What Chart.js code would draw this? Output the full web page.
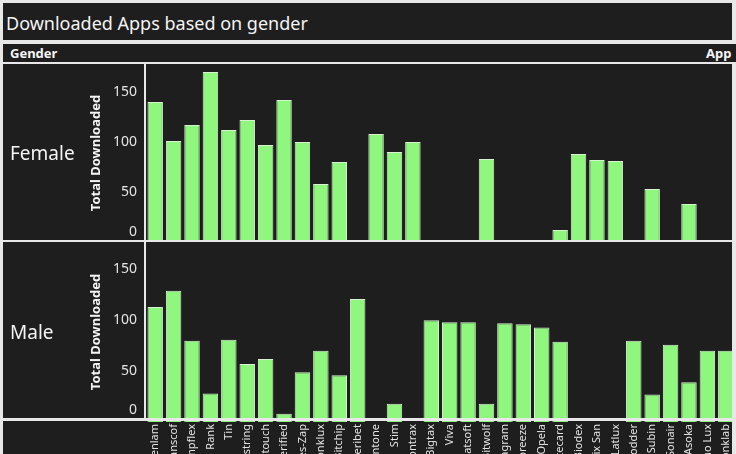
<!DOCTYPE html>
<html>
<head>
<meta charset="utf-8">
<title>Downloaded Apps based on gender</title>
<script src="https://cdn.jsdelivr.net/npm/chart.js@4.4.1/dist/chart.umd.min.js"></script>
<style>
  body { margin:0; width:736px; height:454px; background:#e8e8e8; position:relative; overflow:hidden; font-family:'Noto Sans', sans-serif; color:#f4f4f4; }
  .box { position:absolute; background:#1e1e1e; }
  .sep { position:absolute; background:#e8e8e8; z-index:5; }
  .txt { position:absolute; white-space:nowrap; z-index:6; }
  canvas { position:absolute; }
</style>
</head>
<body>
<div class="box" style="left:3px;top:3px;width:729px;height:37px"></div>
<div class="txt" style="left:6px;top:11px;font-size:18px;line-height:24px">Downloaded Apps based on gender</div>

<div class="box" style="left:3px;top:44px;width:733px;height:18px"></div>
<div class="txt" style="left:10px;top:44px;font-size:13px;font-weight:bold;line-height:18px">Gender</div>
<div class="txt" style="left:706px;top:44px;font-size:13px;font-weight:bold;line-height:18px">App</div>

<div class="box" style="left:3px;top:64px;width:729px;height:390px"></div>
<div class="txt" style="left:10px;top:140px;font-size:19px;line-height:26px">Female</div>
<div class="txt" style="left:10px;top:319px;font-size:19px;line-height:26px">Male</div>

<canvas id="female" width="733" height="178" style="left:3px;top:64px"></canvas>
<canvas id="male" width="733" height="212" style="left:3px;top:242px"></canvas>

<!-- panel dividers -->
<div class="sep" style="left:3px;top:240px;width:729px;height:2px"></div>
<div class="sep" style="left:3px;top:418px;width:729px;height:3px"></div>
<div class="sep" style="left:144px;top:64px;width:2px;height:354px"></div>
<div class="sep" style="left:732px;top:64px;width:4px;height:390px"></div>

<script>
const apps = ['Greenlam','Transcof','Tampflex','Rank','Tin','Ronstring','Voyatouch','Aerified','Tres-Zap','Konklux',
  'Bitchip','Veribet','Fintone','Stim','Zontrax','Bigtax','Viva','Matsoft','Bitwolf','Vagram',
  'Solarbreeze','Opela','Bytecard','Biodex','Fix San','Latlux','Prodder','Subin','Sonair','Asoka',
  'Quo Lux','Konklab']

const femaleDownloads = [140,101,117,170,112,122,97,142,100,58,
  80,null,108,90,100,null,null,null,83,null,
  null,null,12,88,82,81,null,53,null,38,
  null,null]

const maleDownloads = [113,129,80,28,81,57,62,8,49,70,
  46,121,null,18,null,100,98,98,18,97,
  96,93,79,null,null,null,80,27,76,39,
  70,70]

const yTicks = [0, 50, 100, 150]

const barFill = '#90f77e'
const barEdge = '#d6f2cf'
const tickColor = '#e4e4e4'

// tableau nudges the 0 label up inside the pane, chart.js would clip it
const zeroTick = {
  id: 'zeroTick',
  afterDraw(chart, args, opts) {
    const y = chart.scales.y
    const ctx = chart.ctx
    ctx.save()
    ctx.font = '14px "Noto Sans"'
    ctx.fillStyle = tickColor
    ctx.textAlign = 'right'
    ctx.textBaseline = 'middle'
    ctx.fillText(String(yTicks[0]), y.right - 9, y.getPixelForValue(yTicks[0]) - opts.lift)
    ctx.restore()
  }
}

function makeChart(id, values, yMax, showApps, lift) {
  return new Chart(document.getElementById(id), {
    type: 'bar',
    data: {
      labels: apps,
      datasets: [{
        label: 'Total Downloaded',
        data: values,
        backgroundColor: barFill,
        borderColor: barEdge,
        borderWidth: 1,
        barPercentage: 1,
        categoryPercentage: 0.84
      }]
    },
    plugins: [zeroTick],
    options: {
      responsive: false,
      animation: false,
      layout: { padding: { left: 85, right: 1, top: 0, bottom: 0 } },
      plugins: {
        legend: { display: false },
        tooltip: { enabled: false },
        zeroTick: { lift: lift }
      },
      scales: {
        x: {
          display: showApps,
          grid: { display: false, drawTicks: false },
          border: { display: false },
          ticks: {
            autoSkip: false,
            minRotation: 90,
            maxRotation: 90,
            padding: 2,
            color: tickColor,
            font: { family: 'Noto Sans', size: 11 }
          },
          afterFit: s => {
            s.height = showApps ? 32 : 0
            s.paddingLeft = 0
            s.paddingRight = 0
          }
        },
        y: {
          min: 0,
          max: yMax,
          grid: { display: false, drawTicks: false },
          border: { display: false },
          afterBuildTicks: s => { s.ticks = yTicks.map(v => ({ value: v })) },
          ticks: {
            padding: 9,
            color: tickColor,
            font: { family: 'Noto Sans', size: 14 },
            callback: v => v === 0 ? '' : v
          },
          title: {
            display: true,
            text: 'Total Downloaded',
            color: '#f4f4f4',
            padding: 0,
            font: { family: 'Noto Sans', size: 13, weight: 'bold' }
          },
          afterFit: s => { s.width = 58; s.paddingTop = 0; s.paddingBottom = 0 }
        }
      }
    }
  })
}

makeChart('female', femaleDownloads, 178, false, 10)
makeChart('male', maleDownloads, 177, true, 12)
</script>
</body>
</html>
